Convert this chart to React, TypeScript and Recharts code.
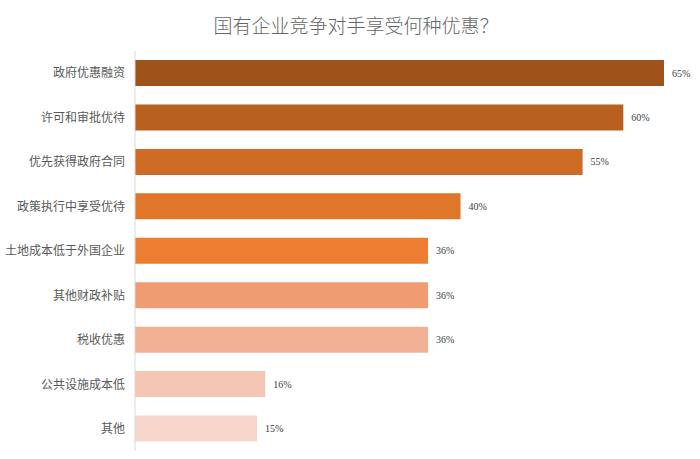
import { BarChart, Bar, XAxis, YAxis, Cell, LabelList } from 'recharts';

const categories = [
  '政府优惠融资',
  '许可和审批优待',
  '优先获得政府合同',
  '政策执行中享受优待',
  '土地成本低于外国企业',
  '其他财政补贴',
  '税收优惠',
  '公共设施成本低',
  '其他',
];
const shares = [65, 60, 55, 40, 36, 36, 36, 16, 15];
const barColors = [
  '#A0521B',
  '#B8601F',
  '#CD6C24',
  '#E0762A',
  '#ED7D31',
  '#F09C72',
  '#F2B095',
  '#F6C6B4',
  '#F7D7CB',
];

const data = categories.map((name, i) => ({ name, value: shares[i] }));

const App = () => {
  return (
    <div style={{ position: 'absolute', left: 0, top: 0, width: 700, height: 459, background: '#fff' }}>
      <div
        style={{
          position: 'absolute',
          left: 356,
          top: 14,
          transform: 'translateX(-50%)',
          whiteSpace: 'nowrap',
          fontFamily: '"Noto Sans CJK SC", sans-serif',
          fontWeight: 300,
          fontSize: 19,
          lineHeight: '21px',
          color: '#666666',
        }}
      >
        国有企业竞争对手享受何种优惠？
      </div>
      <BarChart
        width={700}
        height={459}
        data={data}
        layout="vertical"
        margin={{ top: 51, right: 36, bottom: 8, left: 0 }}
      >
        <XAxis type="number" domain={[0, 65]} hide />
        <YAxis
          type="category"
          dataKey="name"
          width={135}
          tickLine={false}
          tickMargin={4}
          axisLine={{ stroke: '#D9D9D9' }}
          tick={{ fontSize: 12, fill: '#595959', fontFamily: '"Noto Sans CJK SC", sans-serif' }}
          interval={0}
        />
        <Bar dataKey="value" barSize={26} isAnimationActive={false}>
          {data.map((d, i) => (
            <Cell key={d.name} fill={barColors[i]} />
          ))}
          <LabelList
            dataKey="value"
            position="right"
            offset={8}
            formatter={(v: number) => `${v}%`}
            style={{ fontSize: 10, fill: '#404040', fontFamily: '"Liberation Serif", serif' }}
          />
        </Bar>
      </BarChart>
    </div>
  );
};

export default App;
